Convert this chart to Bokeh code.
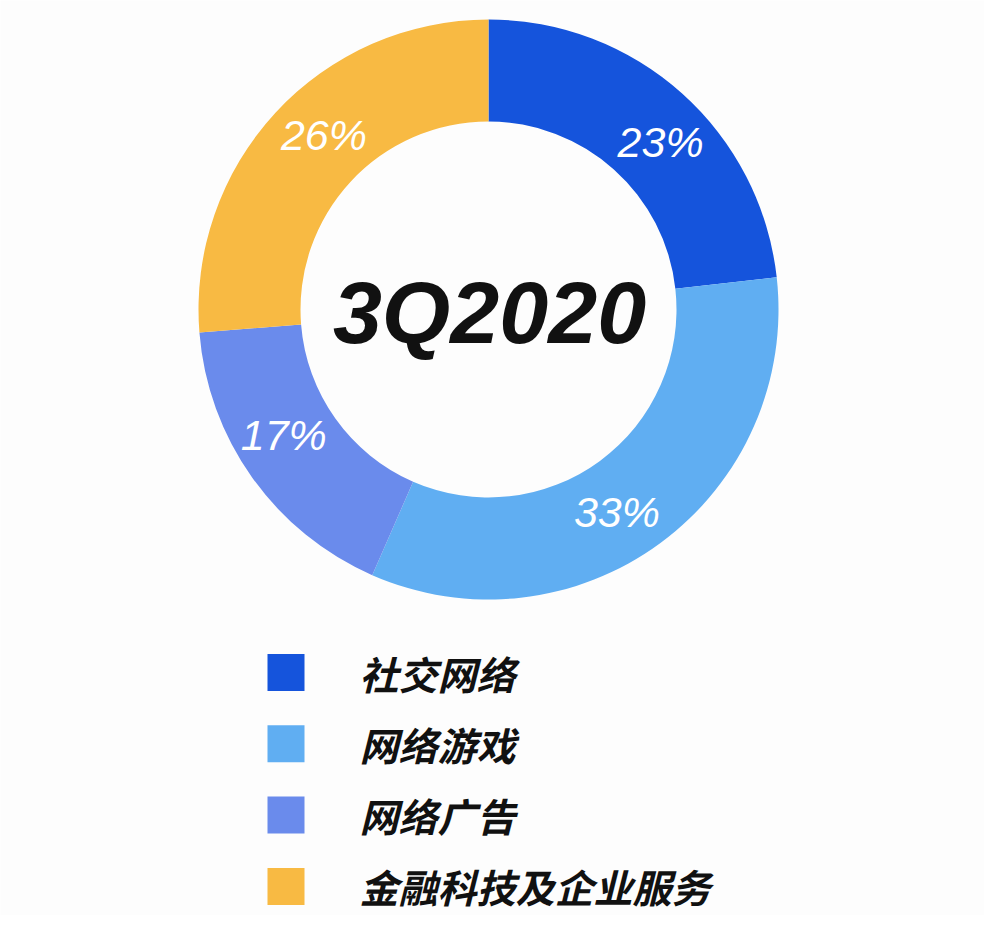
import math
from bokeh.plotting import figure
from bokeh.models import Range1d, ColumnDataSource
from bokeh.core.properties import value
from bokeh.embed import file_html
from bokeh.resources import INLINE

# ---- data ----
categories = ["社交网络", "网络游戏", "网络广告", "金融科技及企业服务"]
shares = [23, 33, 17, 26]
colors = ["#1554dc", "#60aef2", "#6a8bec", "#f8ba43"]
center_title = "3Q2020"

# ---- layout (screen pixels; data y = 931 - screen y) ----
W, H = 984, 915
p = figure(width=W, height=H, output_backend="svg", toolbar_location=None,
           x_range=Range1d(0, W), y_range=Range1d(931 - H, 931),
           min_border=0)
p.axis.visible = False
p.grid.visible = False
p.outline_line_color = None
p.background_fill_color = "#fdfdfd"
p.border_fill_color = "#fdfdfd"

cx, cy = 488, 931 - 309
r_in, r_out = 188, 290

total = sum(shares)
starts, ends, mids = [], [], []
a = math.pi / 2
for s in shares:
    span = s / total * 2 * math.pi
    starts.append(a)
    ends.append(a - span)
    mids.append(a - span / 2 - math.radians(4))
    a -= span

src = ColumnDataSource(dict(start=starts, end=ends, color=colors,
                            label=[f"{s}%" for s in shares],
                            lx=[cx + 240 * math.cos(m) for m in mids],
                            ly=[cy + 240 * math.sin(m) for m in mids]))
p.annular_wedge(x=cx, y=cy, inner_radius=r_in, outer_radius=r_out,
                inner_radius_units="screen", outer_radius_units="screen",
                start_angle="start", end_angle="end", direction="clock",
                fill_color="color", line_color=None, source=src)

p.text(x="lx", y="ly", text="label", source=src, text_color="#ffffff",
       text_font=value("Liberation Sans"), text_font_style="italic",
       text_font_size="43px", text_align="center", text_baseline="middle")

p.text(x=[489], y=[931 - 312], text=[center_title], text_color="#111111",
       text_font=value("Liberation Sans"), text_font_style="bold italic",
       text_font_size="88px", text_align="center", text_baseline="middle")

# legend
leg_y = [931 - (672 + 71.3 * i) for i in range(len(categories))]
p.rect(x=[285.5] * len(categories), y=leg_y, width=37, height=37,
       width_units="screen", height_units="screen",
       fill_color=colors, line_color=None)
p.text(x=[359] * len(categories), y=leg_y, text=categories, text_color="#111111",
       text_font=value("Noto Sans CJK SC"), text_font_style="bold italic",
       text_font_size="39px", text_align="left", text_baseline="middle")

open("out.html", "w").write(file_html(p, INLINE))
